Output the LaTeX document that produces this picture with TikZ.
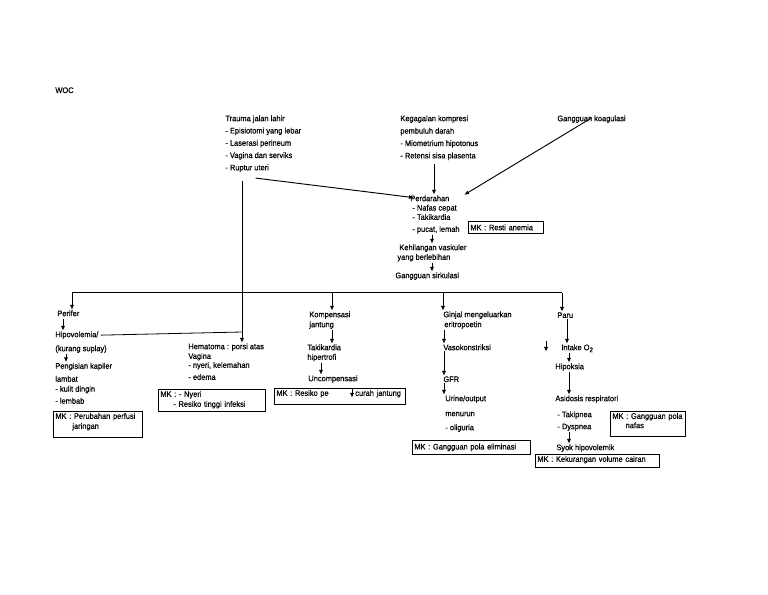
\documentclass[tikz,border=0pt]{standalone}
\usepackage{fontspec}
\setmainfont{Liberation Sans}[FakeStretch=0.93,FakeBold=0.4]
\usetikzlibrary{arrows.meta}
\newcommand\woc{\fontsize{6pt}{7.5pt}\selectfont}
\newcommand\boxpad[1]{\rule[-#1]{0pt}{#1}}
\tikzset{every picture/.style={line width=0.6pt}}

\begin{document}
\begin{tikzpicture}[x=0.75pt,y=0.75pt,yscale=-1,xscale=1,
  txt/.style={anchor=north west,inner sep=0pt,align=left,font=\woc},
  mkbox/.style={draw,anchor=north west,inner xsep=1.5pt,inner ysep=1.2pt,align=left,font=\woc},
  arr/.style={-{Latex[length=3.5pt,width=3.2pt]},line width=0.7pt,shorten <=0.5pt,shorten >=0.3pt}]
\useasboundingbox (0,0) rectangle (768,594);

% Title
\node[txt] (woc) at (55,87) {WOC};

% Causes
\node[txt] (trauma) at (225,115) {Trauma jalan lahir\\[1.7pt]- Episiotomi yang lebar\\[1.7pt]- Laserasi perineum\\[1.7pt]- Vagina dan serviks\\[1.7pt]- Ruptur uteri};
\node[txt] (keg) at (400,115) {Kegagalan kompresi\\[1.8pt]pembuluh darah\\[1.8pt]- Miometrium hipotonus\\[1.8pt]- Retensi sisa plasenta};
\node[txt] (koag) at (557,115) {Gangguan koagulasi};

% Perdarahan
\node[txt] (perd) at (410,195) {Perdarahan\\[-0.5pt]\hspace*{1.5pt}- Nafas cepat\\[-0.5pt]\hspace*{1.5pt}- Takikardia\\[1.5pt]\hspace*{1.5pt}- pucat, lemah};
\node[mkbox,text width=53.25pt,minimum height=9pt] (mkresti) at (468,221) {MK : Resti anemia};
\node[txt] (kehil) at (397,244) {\hspace*{1.5pt}Kehilangan vaskuler\\[-0.3pt]yang berlebihan};
\node[txt] (sirk) at (395,272) {Gangguan sirkulasi};

% Perifer
\node[txt] (perifer) at (57,310) {Perifer};
\node[txt] (hipo) at (55,331) {Hipovolemia/};
\node[txt] (kurang) at (55,345) {(kurang suplay)};
\node[txt] (peng) at (55,362.5) {Pengisian kapiler\\[2.25pt]lambat\\- kulit dingin\\[1.5pt]- lembab};
\node[mkbox,text width=63.75pt] (mkperfusi) at (53,411) {MK : Perubahan perfusi\\\hspace*{12.75pt}jaringan\boxpad{5pt}};

% Hematoma
\node[txt] (hema) at (188,343) {Hematoma : porsi atas\\[-0.3pt]Vagina\\[-0.75pt]- nyeri, kelemahan\\[1.5pt]- edema};
\node[mkbox,text width=77.25pt] (mknyeri) at (158,389) {MK : - Nyeri\\\hspace*{9.75pt}- Resiko tinggi infeksi\boxpad{2.5pt}};

% Jantung
\node[txt] (komp) at (309,311) {Kompensasi\\jantung};
\node[txt] (taki) at (307,344) {Takikardia\\[-0.3pt]hipertrofi};
\node[txt] (uncomp) at (308,375) {Uncompensasi};
\node[mkbox,text width=95.25pt] (mkcurah) at (274,388) {MK : Resiko pe\hspace{20pt}curah jantung\boxpad{5pt}};

% Ginjal
\node[txt] (ginjal) at (443,311) {Ginjal mengeluarkan\\\hspace*{0.75pt}eritropoetin};
\node[txt] (vaso) at (443,344) {Vasokonstriksi};
\node[txt] (gfr) at (443,376) {GFR};
\node[txt] (urine) at (445,395) {Urine/output\\[3.75pt]menurun\\[3pt]- oliguria};
\node[mkbox,text width=85.5pt,minimum height=10.5pt] (mkelim) at (412,440) {MK : Gangguan pola eliminasi};

% Paru
\node[txt] (paru) at (557,312) {Paru};
\node[txt] (intake) at (561,344) {Intake O\textsubscript{2}};
\node[txt] (hipoks) at (555,363) {Hipoksia};
\node[txt] (asid) at (555,395) {Asidosis respiratori};
\node[txt] (takip) at (557,411) {- Takipnea\\[1.5pt]- Dyspnea};
\node[txt] (syok) at (556,444) {Syok hipovolemik};
\node[mkbox,text width=53.25pt] (mknafas) at (610,411) {MK : Gangguan pola\\[-0.5pt]\hspace*{10pt}nafas\boxpad{5pt}};
\node[mkbox,text width=90pt] (mkcairan) at (535,454) {MK : Kekurangan volume cairan\boxpad{3pt}};

% columns and free ends
\coordinate (trDown) at (242,180);
\coordinate (trSide) at (255,178);
\coordinate (hipoJoin) at (242,332);
\coordinate (kegDown) at (434,163);
\coordinate (xM) at (432,0);
\coordinate (busL) at (72,292);
\coordinate (busK) at (332,292);
\coordinate (busG) at (443,292);
\coordinate (busR) at (562,292);
\coordinate (perTop) at (63,318);
\coordinate (xPk) at (66,0);
\coordinate (xJ) at (321,0);
\coordinate (xG) at (444,0);
\coordinate (xR) at (567,0);
\coordinate (xRb) at (569,0);
\coordinate (curTop) at (352,388.5);
\coordinate (curBot) at (352,398);
\coordinate (strayTop) at (546,340);
\coordinate (strayBot) at (546,352);

% Causes to Perdarahan
\draw[arr] (trSide) -- ([shift={(3pt,2pt)}]perd.north west);
\draw[arr] (kegDown) -- (kegDown |- perd.north);
\draw[arr] ([yshift=-4pt]koag.south) -- ([xshift=3pt]perd.north east);
\draw[arr] (trDown) -- (trDown |- hema.north);
\draw ([xshift=1.5pt]hipo.east) -- (hipoJoin);

% Perdarahan chain
\draw[arr] (perd.south -| xM) -- (kehil.north -| xM);
\draw[arr] (kehil.south -| xM) -- (sirk.north -| xM);

% Bus
\draw (busL) -- (busR);
\draw[arr] (busL) -- (busL |- perifer.north);
\draw[arr] (busK) -- (busK |- komp.north);
\draw[arr] (busG) -- (busG |- ginjal.north);
\draw[arr] (busR) -- (busR |- paru.north);

% Perifer chain
\draw[arr] (perTop) -- (perTop |- hipo.north);
\draw[arr] (kurang.south -| xPk) -- (peng.north -| xPk);

% Jantung chain
\draw[arr] (komp.south -| busK) -- (taki.north -| busK);
\draw[arr] (taki.south -| xJ) -- (uncomp.north -| xJ);
\draw[arr] (curTop) -- (curBot);

% Ginjal chain
\draw[arr] (ginjal.south -| xG) -- (vaso.north -| xG);
\draw[arr] (vaso.south -| xG) -- (gfr.north -| xG);
\draw[arr] (gfr.south -| xG) -- (urine.north -| xG);

% Paru chain
\draw[arr] (paru.south -| xR) -- (intake.north -| xR);
\draw[arr] (strayTop) -- (strayBot);
\draw[arr] (intake.south -| xRb) -- (hipoks.north -| xRb);
\draw[arr] (hipoks.south -| xRb) -- (asid.north -| xRb);
\draw[arr] (takip.south -| xRb) -- (syok.north -| xRb);

\end{tikzpicture}
\end{document}
